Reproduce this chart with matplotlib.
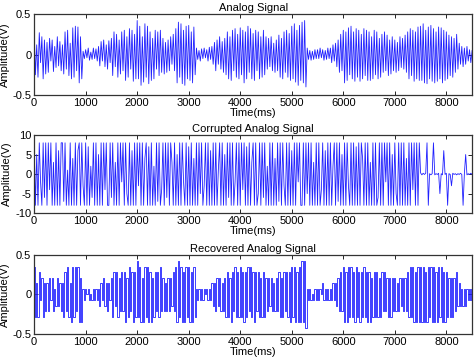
import numpy as np
import matplotlib.pyplot as plt

plt.rcParams['font.family'] = ['Liberation Sans', 'DejaVu Sans']

# one sample every 25 ms, 0..8500 ms
t_step = 25
titles = ['Analog Signal', 'Corrupted Analog Signal', 'Recovered Analog Signal']

# analog signal, hundredths of a volt
analog_cv = [
    30, -25, 12, -28, 27, -10, 22, -30, 18, -24,
    15, -22, 20, -8, 18, -21, 10, -16, 22, -14,
    16, -20, 12, -24, 28, -18, 30, -26, 14, -30,
    33, -28, 35, -20, 34, -35, 22, -30, 4, -5,
    6, -4, 8, -7, 3, -6, 8, -5, 7, -8,
    10, -14, 16, -8, 18, -15, 12, -18, 17, -10,
    20, -26, 28, -15, 25, -28, 18, -24, 28, -20,
    30, -32, 22, -28, 32, -18, 30, -33, 25, -30,
    42, -30, 35, -38, 22, -34, 38, -28, 35, -36,
    28, -32, 20, -30, 30, -18, 28, -26, 30, -22,
    20, -24, 15, -22, 18, -20, 22, -12, 25, -20,
    32, -35, 40, -28, 38, -36, 30, -38, 35, -30,
    36, -32, 28, -35, 34, -25, 8, -6, 5, -8,
    7, -5, 8, -4, 6, -8, 9, -6, 10, -12,
    15, -20, 18, -12, 22, -18, 16, -22, 20, -25,
    28, -30, 22, -32, 30, -20, 32, -28, 25, -30,
    33, -25, 30, -35, 28, -30, 35, -22, 32, -30,
    26, -32, 30, -20, 28, -30, 22, -28, 30, -25,
    22, -18, 20, -15, 22, -20, 14, -22, 18, -20,
    24, -28, 20, -30, 28, -22, 30, -28, 26, -32,
    35, -30, 38, -34, 30, -38, 36, -32, 40, -35,
    42, -40, 8, -6, 5, -7, 4, -6, 6, -5,
    6, -5, 8, -4, 6, -7, 5, -6, 8, -5,
    8, -10, 12, -8, 14, -15, 18, -22, 25, -20,
    30, -35, 28, -32, 33, -25, 35, -30, 28, -33,
    32, -28, 30, -33, 25, -30, 32, -26, 30, -32,
    28, -32, 22, -30, 30, -25, 28, -30, 20, -28,
    25, -22, 28, -20, 24, -26, 18, -24, 22, -20,
    18, -22, 15, -20, 22, -16, 20, -18, 24, -22,
    28, -30, 32, -26, 30, -33, 28, -30, 34, -32,
    35, -32, 38, -35, 30, -36, 34, -30, 36, -33,
    32, -35, 28, -33, 34, -30, 33, -35, 30, -32,
    28, -30, 24, -26, 22, -28, 20, -22, 25, -18,
    14, -12, 10, -15, 8, -12, 10, -8, 6, -10,
    5,
]

# corrupted signal, volts
corrupted = [
    8, -8, 5, -8, 8, -2, -8, 8, -6, 8,
    -8, 8, -4, 8, -8, 3, -8, 8, -8, 6,
    -8, 8, 8, -7, 8, -8, 1, -8, 8, -8,
    4, -8, 8, -8, 6, 8, -8, 8, -3, -8,
    8, -8, 7, -8, 2, -6, 8, -8, 8, -8,
    5, -8, 8, -8, 8, -4, 8, -8, -8, 8,
    -6, 8, -8, 3, -8, 8, -8, 8, -2, 8,
    -8, 8, -5, -8, 8, -8, 6, -8, 8, -8,
    8, -3, 8, -8, 8, -8, 4, 8, -8, 7,
    -8, 8, -8, 2, -8, 8, -7, 8, -8, -4,
    8, -8, 8, -6, 8, -8, 8, 3, -8, 8,
    -8, 5, -8, 8, -8, 8, -2, -8, 8, -8,
    7, -8, 8, -8, 4, -8, 8, -8, 8, -5,
    8, -8, -3, 8, -8, 8, -8, 6, -8, 8,
    -8, 8, -8, 1, 8, -8, 8, -8, 5, -8,
    8, -6, 8, -8, 8, -8, -2, 8, -8, 8,
    -8, 8, -4, 8, -8, 7, -8, 8, -8, 3,
    8, -8, 8, -8, -5, 8, -8, 8, -6, 8,
    -8, 2, -8, 8, -8, 8, -8, 4, -8, 8,
    -7, 8, -8, 8, -3, -8, 8, -8, 8, -8,
    6, -8, 8, -8, 8, -2, 8, -8, -8, 8,
    -8, 8, -5, 8, -8, 8, -8, 3, -8, 8,
    -8, 8, -8, -4, 8, -8, 6, -8, 8, -8,
    8, -8, 2, 8, -8, 8, -7, 8, -8, 5,
    -8, 8, -8, 8, -3, -8, 8, -8, 8, -8,
    7, -8, 8, -8, 8, 4, -8, 8, -8, 8,
    -8, 3, -8, 8, -8, 8, -8, -6, 8, -8,
    8, -8, 8, -2, 8, -8, 8, -8, 5, -8,
    8, -5, -8, 8, -8, 8, -8, 8, -8, 4,
    -8, 8, -8, 8, -4, 8, -8, 8, -8, 8,
    0.3, -0.2, 0.2, -0.1, 0.2, 8, -8, 0.1, -0.2, 0.1,
    8, -0.2, 0.1, -0.1, 0.2, -5, 0.1, -0.2, 6, -0.1,
    0.2, -8, 0.1, -0.1, -3, 0.2, -0.1, 0.1, -0.2, 0.1,
    -0.1, 0.2, -0.1, -8, 0.1, 5, -0.2, 0.1, -0.1, 0.2,
    -0.1,
]

# recovered signal, quantisation levels of 0.07 V
q_step = 0.07
recovered_q = [
    5, -4, 2, -4, 4, -1, 3, -4, 2, -3,
    2, -3, 3, -1, 3, -3, 1, -2, 3, -2,
    2, -3, 2, -4, 4, -3, 5, -4, 2, -5,
    5, -4, 5, -3, 5, -5, 3, -5, 1, -1,
    1, 0, 1, -1, 0, -1, 1, -1, 1, -1,
    1, -2, 2, -1, 3, -2, 2, -3, 2, -1,
    3, -4, 4, -2, 4, -4, 3, -3, 4, -3,
    4, -5, 3, -4, 5, -3, 4, -5, 4, -4,
    6, -4, 5, -5, 3, -5, 5, -4, 5, -5,
    4, -5, 3, -4, 4, -3, 4, -4, 5, -3,
    3, -3, 2, -3, 3, -3, 3, -2, 4, -3,
    5, -5, 6, -4, 5, -5, 4, -5, 5, -4,
    5, -5, 4, -5, 5, -4, 1, -1, 1, -1,
    1, -1, 1, 0, 1, -1, 1, -1, 2, -2,
    2, -3, 3, -2, 3, -3, 2, -3, 3, -4,
    4, -4, 3, -5, 4, -3, 5, -4, 4, -4,
    5, -4, 4, -5, 4, -4, 5, -3, 5, -4,
    4, -5, 4, -3, 4, -4, 3, -4, 4, -4,
    3, -3, 3, -2, 3, -3, 2, -3, 3, -3,
    4, -4, 3, -4, 4, -3, 4, -4, 4, -5,
    5, -4, 5, -5, 4, -5, 5, -5, 6, -5,
    6, -6, 1, -1, 1, -1, 0, -1, 1, -1,
    1, -1, 1, 0, 2, -1, 1, -1, 1, -1,
    1, -1, 2, -1, 2, -2, 3, -3, 4, -3,
    5, -5, 4, -5, 5, -4, 5, -4, 4, -5,
    5, -4, 4, -5, 4, -4, 5, -4, 4, -5,
    4, -5, 3, -4, 4, -4, 4, -4, 3, -4,
    4, -3, 4, -3, 3, -4, 3, -4, 3, -3,
    3, -3, 2, -3, 3, -2, 3, -3, 3, -3,
    4, -4, 5, -4, 5, -5, 4, -5, 5, -5,
    5, -5, 5, -5, 4, -5, 5, -4, 5, -5,
    5, -5, 4, -5, 5, -4, 5, -5, 4, -5,
    4, -4, 3, -4, 3, -4, 3, -3, 4, -2,
    2, -2, 1, -2, 1, -2, 1, -1, 1, -1,
    1,
]

signals = [np.array(analog_cv) / 100.0,
           np.array(corrupted, dtype=float),
           np.array(recovered_q) * q_step]
ylims = [(-0.5, 0.5), (-10, 10), (-0.5, 0.5)]
yticks = [[-0.5, 0, 0.5], [-10, -5, 0, 5, 10], [-0.5, 0, 0.5]]
ylabels = [['-0.5', '0', '0.5'], ['-10', '-5', '0', '5', '10'], ['-0.5', '0', '0.5']]
# axes boxes: left, bottom, width, height (figure fractions)
boxes = [[0.072, 0.736, 0.924, 0.225],
         [0.072, 0.408, 0.924, 0.217],
         [0.072, 0.072, 0.924, 0.220]]

fig = plt.figure(figsize=(4.74, 3.6), dpi=100)
for k in range(3):
    ax = fig.add_axes(boxes[k])
    y = signals[k]
    t = np.arange(len(y)) * t_step
    if k == 2:
        ax.plot(t, y, color='#2020ff', lw=0.6, drawstyle='steps-mid')
    else:
        ax.plot(t, y, color='#2020ff', lw=0.6)
    ax.set_xlim(0, 8500)
    ax.set_ylim(*ylims[k])
    ax.set_xticks(range(0, 8001, 1000))
    ax.set_yticks(yticks[k])
    ax.set_yticklabels(ylabels[k])
    ax.tick_params(direction='in', top=True, right=True, labelsize=8,
                   length=3, width=0.6, pad=2)
    for s in ax.spines.values():
        s.set_linewidth(0.9)
        s.set_color('#333333')
    ax.set_title(titles[k], fontsize=8, pad=2)
    ax.set_xlabel('Time(ms)', fontsize=8, labelpad=0)
    ax.set_ylabel('Amplitude(V)', fontsize=8, labelpad=2)

fig.savefig('out.png', dpi=100)
